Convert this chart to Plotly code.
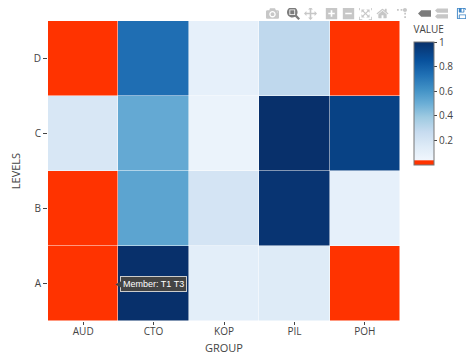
import plotly.graph_objects as go

groups = ["AUD", "CTO", "KOP", "PIL", "POH"]
levels = ["A", "B", "C", "D"]
row_a = [0.0, 1.0, 0.12, 0.15, 0.0]
row_b = [0.0, 0.54, 0.20, 0.98, 0.10]
row_c = [0.18, 0.52, 0.07, 1.0, 0.92]
row_d = [0.0, 0.74, 0.10, 0.29, 0.0]
values = [row_a, row_b, row_c, row_d]
tooltip_text = "Member: T1 T3"
tooltip_pointer = "\u25c0"

colorscale = [
    [0.0, "#ff3300"], [0.035, "#ff3300"], [0.04, "#f0f6fd"], [0.15, "#deebf7"],
    [0.27, "#c6dbef"], [0.39, "#9ecae1"], [0.5, "#6baed6"], [0.61, "#4292c6"],
    [0.73, "#2171b5"], [0.85, "#08519c"], [1.0, "#08306b"],
]

fig = go.Figure(go.Heatmap(
    x=groups, y=levels, z=values, zmin=0, zmax=1, colorscale=colorscale,
    xgap=0.5, ygap=0.5, hoverinfo="skip",
    colorbar=dict(
        title=dict(text="VALUE", side="top", font=dict(size=10, color="#444")),
        thickness=20, thicknessmode="pixels", len=142, lenmode="pixels",
        x=1.04, xanchor="left", y=0.993, yanchor="top", ypad=0, xpad=0,
        tickvals=[0.2, 0.4, 0.6, 0.8, 1], ticktext=["0.2", "0.4", "0.6", "0.8", "1"],
        ticks="outside", ticklen=3, tickcolor="#444",
        tickfont=dict(size=10, color="#444"), outlinecolor="#777", outlinewidth=1,
    ),
))
fig.add_annotation(
    x=groups[1], y=levels[0], xref="x", yref="y", text=tooltip_text, showarrow=False,
    bgcolor="#444", bordercolor="#ccc", borderwidth=1, borderpad=2,
    font=dict(size=9, color="#fff", family="Liberation Sans, Arial, sans-serif"),
)
fig.add_annotation(
    x=groups[1], y=levels[0], xref="x", yref="y", text=tooltip_pointer, showarrow=False,
    xanchor="right", xshift=-31, borderpad=0, borderwidth=0,
    font=dict(size=10, color="#444", family="DejaVu Sans"),
)
fig.update_layout(
    width=466, height=354, autosize=False,
    margin=dict(l=40, r=74, t=13, b=41), paper_bgcolor="#fff", plot_bgcolor="#fff",
    font=dict(family="Open Sans, sans-serif", size=10, color="#444"),
    modebar=dict(bgcolor="rgba(0,0,0,0)", color="rgba(68,68,68,0.3)", activecolor="rgba(68,68,68,0.7)"),
    xaxis=dict(automargin=False, title=dict(text="GROUP", font=dict(size=11), standoff=7), ticks="outside", ticklen=3, ticklabelstandoff=-2, tickcolor="#444", showgrid=False, zeroline=False),
    yaxis=dict(automargin=False, title=dict(text="LEVELS", font=dict(size=11), standoff=12), ticks="outside", ticklen=4, tickcolor="#444", showgrid=False, zeroline=False),
)
modebar_buttons = [
    ["toImage"], ["zoom2d", "pan2d"],
    ["zoomIn2d", "zoomOut2d", "autoScale2d", "resetScale2d"],
    ["toggleSpikelines"], ["hoverClosestCartesian", "hoverCompareCartesian"], ["sendDataToCloud"],
]
css_js = """
var s = document.createElement('style');
s.textContent = `
.modebar{top:-4px !important; right:3px !important;}
.modebar-group{padding-left:4px !important; margin:0 !important;}
.modebar-btn{font-size:13px !important; padding:3px 2px !important; height:18px !important;}
.modebar-group:last-child .modebar-btn path{fill:#3d85c6 !important;}
`;
document.head.appendChild(s);
"""
fig.write_html("out.html", post_script=css_js, config={
    "displayModeBar": True, "displaylogo": False, "modeBarButtons": modebar_buttons,
})
